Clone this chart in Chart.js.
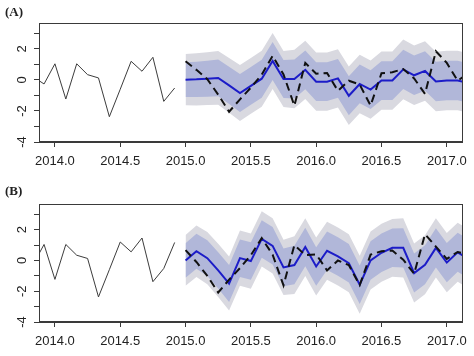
<!DOCTYPE html>
<html><head><meta charset="utf-8">
<script src="https://cdn.jsdelivr.net/npm/chart.js@4"></script>
<style>
html,body{margin:0;padding:0;background:#fff;width:474px;height:356px;overflow:hidden}
.panel{position:absolute;left:0;width:474px;height:178px}
.tag{position:absolute;left:5px;font:bold 13px "Liberation Serif","DejaVu Serif",serif;color:#222;line-height:15px}
</style></head><body>
<div class="panel" style="top:0"><canvas id="cA" width="474" height="178"></canvas></div>
<div class="panel" style="top:178px"><canvas id="cB" width="474" height="178"></canvas></div>
<div class="tag" style="top:4px">(A)</div>
<div class="tag" style="top:183px">(B)</div>
<script>
// ---- data ----
const obsMonths = ['2013-11','2013-12','2014-01','2014-02','2014-03','2014-04','2014-05','2014-06','2014-07','2014-08','2014-09','2014-10','2014-11','2014-12'];
const fcMonths = ['2015-01','2015-02','2015-03','2015-04','2015-05','2015-06','2015-07','2015-08','2015-09','2015-10','2015-11','2015-12',
  '2016-01','2016-02','2016-03','2016-04','2016-05','2016-06','2016-07','2016-08','2016-09','2016-10','2016-11','2016-12',
  '2017-01','2017-02','2017-03'];

const obsA = [0.2,-0.26,1.04,-1.23,1.04,0.34,0.13,-2.37,-0.6,1.2,0.56,1.46,-1.38,-0.52];
const meanA = [0.02,0.04,0.08,0.13,-0.35,-0.84,-0.38,0.08,1.22,0.06,0.06,0.65,-0.11,-0.11,0.1,-1.02,-0.26,-0.62,-0.04,-0.04,0.68,0.3,0.58,-0.1,-0.04,-0.04,-0.2];
const hi80A = [1.14,1.18,1.24,1.31,0.85,0.38,0.84,1.30,2.44,1.28,1.31,1.90,1.14,1.14,1.35,0.23,0.99,0.63,1.21,1.21,1.95,1.57,1.85,1.17,1.23,1.23,1.07];
const lo80A = [-1.10,-1.10,-1.08,-1.05,-1.55,-2.06,-1.60,-1.14,0.00,-1.16,-1.19,-0.60,-1.36,-1.36,-1.15,-2.27,-1.51,-1.87,-1.29,-1.29,-0.59,-0.97,-0.69,-1.37,-1.31,-1.31,-1.47];
const hi95A = [1.67,1.72,1.78,1.86,1.41,0.96,1.42,1.88,3.02,1.86,1.94,2.53,1.77,1.77,1.98,0.86,1.62,1.26,1.84,1.84,2.60,2.22,2.50,1.82,1.88,1.88,1.72];
const lo95A = [-1.63,-1.64,-1.62,-1.60,-2.11,-2.64,-2.18,-1.72,-0.58,-1.74,-1.82,-1.23,-1.99,-1.99,-1.78,-2.90,-2.14,-2.50,-1.92,-1.92,-1.24,-1.62,-1.34,-2.02,-1.96,-1.96,-2.12];
const actualA = [1.2,0.65,0.05,-0.95,-2.05,-1.25,-0.5,0.35,1.55,0.35,-1.66,1.1,0.4,0.45,-0.7,-0.05,-0.3,-1.65,0.43,0.5,0.7,0.1,-0.9,1.85,1.1,-0.05,0.45];

const obsB = [-0.26,1.04,-1.23,1.04,0.34,0.13,-2.37,-0.6,1.2,0.56,1.46,-1.38,-0.52,1.17];
const meanB = [0.0,0.6,0.15,-0.65,-1.5,0.15,-0.04,1.4,0.95,-0.45,-0.3,0.87,-0.39,0.63,0.26,-0.18,-1.58,0.0,0.5,0.82,0.82,-0.82,-0.28,0.82,-0.14,0.53,0.1];
const hi80B = [1.12,1.74,1.31,0.53,-0.30,1.37,1.18,2.62,2.17,0.77,0.95,2.12,0.86,1.88,1.51,1.07,-0.33,1.25,1.75,2.07,2.09,0.45,0.99,2.09,1.13,1.80,1.37];
const lo80B = [-1.12,-0.54,-1.01,-1.83,-2.70,-1.07,-1.26,0.18,-0.27,-1.67,-1.55,-0.38,-1.64,-0.62,-0.99,-1.43,-2.83,-1.25,-0.75,-0.43,-0.45,-2.09,-1.55,-0.45,-1.41,-0.74,-1.17];
const hi95B = [1.65,2.28,1.85,1.08,0.26,1.95,1.76,3.20,2.75,1.35,1.58,2.75,1.49,2.51,2.14,1.70,0.30,1.88,2.38,2.70,2.74,1.10,1.64,2.74,1.78,2.45,2.02];
const lo95B = [-1.65,-1.08,-1.55,-2.38,-3.26,-1.65,-1.84,-0.40,-0.85,-2.25,-2.18,-1.01,-2.27,-1.25,-1.62,-2.06,-3.46,-1.88,-1.38,-1.06,-1.10,-2.74,-2.20,-1.10,-2.06,-1.39,-1.82];
const actualB = [0.67,-0.1,-1.0,-2.08,-1.25,-0.5,0.35,1.45,0.38,-1.62,1.0,0.35,0.4,-0.65,0.0,-0.3,-1.6,0.38,0.6,0.65,0.05,-0.87,1.7,0.9,0.1,0.55,0.4];

const xTickValues = [2014.0,2014.5,2015.0,2015.5,2016.0,2016.5,2017.0];
const xTickLabels = ['2014.0','2014.5','2015.0','2015.5','2016.0','2016.5','2017.0'];
const yTickValues = [-4,-3,-2,-1,0,1,2,3];
const yTickLabels = ['-4','','-2','','0','','2',''];

// ---- helpers ----
function toYear(m){ const p=m.split('-'); return (+p[0]) + ((+p[1])-1)/12; }
function pts(months, vals){ return vals.map((v,i)=>({x: toYear(months[i]), y: v})); }

const boxPlugin = {
  id: 'box',
  afterDraw(c){
    const a = c.chartArea, ctx = c.ctx;
    ctx.save();
    ctx.strokeStyle = '#3a3a3a'; ctx.lineWidth = 1;
    ctx.strokeRect(Math.round(a.left)+0.5, Math.round(a.top)+0.5, Math.round(a.right-a.left)-1, Math.round(a.bottom-a.top)-1);
    ctx.restore();
  }
};

const tickFont = {family: '"Liberation Sans", Arial, sans-serif', size: 13};

function makeChart(id, padTop, xHeight, obs, mean, lo80, hi80, lo95, hi95, actual){
  const line = (data, color, width, dash, order, extra) => Object.assign({
    data, borderColor: color, borderWidth: width, borderDash: dash || [], pointRadius: 0,
    fill: false, tension: 0, order
  }, extra || {});
  return new Chart(document.getElementById(id), {
    type: 'line',
    data: { datasets: [
      line(pts(obsMonths, obs), '#3c3c3c', 1, null, 0),
      line(pts(fcMonths, actual), '#111', 2, [8,5], 1),
      line(pts(fcMonths, mean), '#1c1cc8', 2, null, 2),
      line(pts(fcMonths, hi80), 'rgba(0,0,0,0)', 0, null, 3, {fill: '+1', backgroundColor: '#b1b7d9'}),
      line(pts(fcMonths, lo80), 'rgba(0,0,0,0)', 0, null, 4),
      line(pts(fcMonths, hi95), 'rgba(0,0,0,0)', 0, null, 5, {fill: '+1', backgroundColor: '#d9d9e0'}),
      line(pts(fcMonths, lo95), 'rgba(0,0,0,0)', 0, null, 6)
    ]},
    options: {
      responsive: false, animation: false, devicePixelRatio: 1,
      layout: { padding: { top: padTop, right: 9, left: 0, bottom: 0 } },
      plugins: { legend: {display: false}, tooltip: {enabled: false}, filler: {drawTime: 'beforeDatasetsDraw'} },
      scales: {
        x: {
          type: 'linear', min: 2013.878, max: 2017.122,
          afterBuildTicks: s => { s.ticks = xTickValues.map(v => ({value: v})); },
          afterFit: s => { s.height = xHeight; },
          ticks: { callback: (v, i) => xTickLabels[i], font: tickFont, color: '#222', padding: 7, maxRotation: 0, autoSkip: false },
          grid: { drawOnChartArea: false, drawTicks: true, tickLength: 5, color: '#3a3a3a' },
          border: { display: true, color: '#3a3a3a' }
        },
        y: {
          type: 'linear', min: -4, max: 3.67,
          afterBuildTicks: s => { s.ticks = yTickValues.map(v => ({value: v})); },
          afterFit: s => { s.width = 39; },
          ticks: { callback: (v, i) => yTickLabels[i], font: tickFont, color: '#222', padding: 6, minRotation: 90, maxRotation: 90, crossAlign: 'center', autoSkip: false },
          grid: { drawOnChartArea: false, drawTicks: true, tickLength: 5, color: '#3a3a3a' },
          border: { display: true, color: '#3a3a3a' }
        }
      }
    },
    plugins: [boxPlugin]
  });
}

makeChart('cA', 23, 36, obsA, meanA, lo80A, hi80A, lo95A, hi95A, actualA);
makeChart('cB', 26, 34, obsB, meanB, lo80B, hi80B, lo95B, hi95B, actualB);
</script>
</body></html>
